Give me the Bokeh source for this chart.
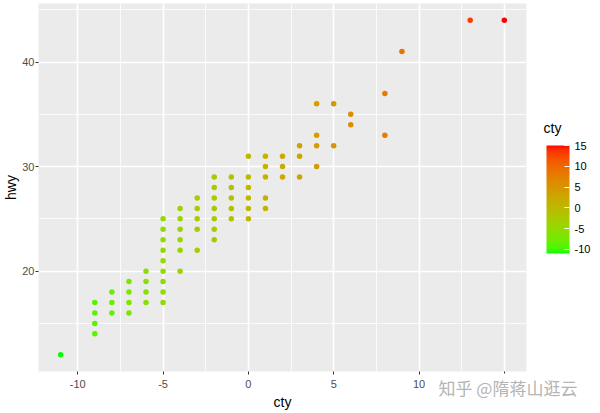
from bokeh.plotting import figure
from bokeh.models import (ColumnDataSource, LinearColorMapper, ColorBar, FixedTicker,
                          CustomJSTickFormatter)
from bokeh.embed import file_html
from bokeh.resources import INLINE

# ---- data ----
cty = [-11,
       -9, -9, -9, -9,
       -8, -8, -8,
       -7, -7, -7, -7,
       -6, -6, -6, -6,
       -5, -5, -5, -5, -5, -5, -5, -5, -5,
       -4, -4, -4, -4, -4, -4,
       -3, -3, -3, -3, -3,
       -2, -2, -2, -2, -2, -2, -2,
       -1, -1, -1, -1, -1,
       0, 0, 0, 0, 0, 0,
       1, 1, 1, 1, 1,
       2, 2, 2,
       3, 3, 3,
       4, 4, 4, 4,
       5, 5,
       6, 6,
       8, 8,
       9, 13, 15]
hwy = [12,
       14, 15, 16, 17,
       16, 17, 18,
       16, 17, 18, 19,
       17, 18, 19, 20,
       17, 18, 19, 20, 21, 22, 23, 24, 25,
       20, 22, 23, 24, 25, 26,
       22, 24, 25, 26, 27,
       23, 24, 25, 26, 27, 28, 29,
       25, 26, 27, 28, 29,
       25, 26, 27, 28, 29, 31,
       26, 27, 29, 30, 31,
       29, 30, 31,
       29, 31, 32,
       30, 32, 33, 36,
       32, 36,
       34, 35,
       33, 37,
       41, 44, 44]

x_ticks = [-10, -5, 0, 5, 10, 15]
x_minor = [-7.5, -2.5, 2.5, 7.5, 12.5]
y_ticks = [20, 30, 40]
y_minor = [15, 25, 35, 45]
legend_ticks = [-10, -5, 0, 5, 10, 15]
legend_title = "cty"
watermark = "知乎 @隋蒋山逛云"
color_low, color_high = "#00FF00", "#FF0000"

# ---- Lab gradient like ggplot's scale_colour_gradient ----
def _lin(c):
    c = c / 255.0
    return ((c + 0.055) / 1.055) ** 2.4 if c > 0.04045 else c / 12.92

def _gam(c):
    c = 1.055 * c ** (1 / 2.4) - 0.055 if c > 0.0031308 else 12.92 * c
    return max(0, min(255, round(c * 255)))

WN = (0.95047, 1.0, 1.08883)

def hex2lab(h):
    r, g, b = (_lin(int(h[i:i + 2], 16)) for i in (1, 3, 5))
    X = 0.4124 * r + 0.3576 * g + 0.1805 * b
    Y = 0.2126 * r + 0.7152 * g + 0.0722 * b
    Z = 0.0193 * r + 0.1192 * g + 0.9505 * b
    f = lambda t: t ** (1 / 3) if t > 0.008856 else 7.787 * t + 16 / 116
    fx, fy, fz = f(X / WN[0]), f(Y / WN[1]), f(Z / WN[2])
    return (116 * fy - 16, 500 * (fx - fy), 200 * (fy - fz))

def lab2hex(L, a, b):
    fy = (L + 16) / 116
    fx = fy + a / 500
    fz = fy - b / 200
    fi = lambda t: t ** 3 if t ** 3 > 0.008856 else (t - 16 / 116) / 7.787
    X, Y, Z = fi(fx) * WN[0], fi(fy) * WN[1], fi(fz) * WN[2]
    r = 3.2406 * X - 1.5372 * Y - 0.4986 * Z
    g = -0.9689 * X + 1.8758 * Y + 0.0415 * Z
    bb = 0.0557 * X - 0.2040 * Y + 1.0570 * Z
    r, g, bb = (max(0.0, min(1.0, v)) for v in (r, g, bb))
    return "#%02x%02x%02x" % (_gam(r), _gam(g), _gam(bb))

la, lb = hex2lab(color_low), hex2lab(color_high)
N = 256
palette = [lab2hex(*[la[k] + (lb[k] - la[k]) * i / (N - 1) for k in range(3)]) for i in range(N)]

mapper = LinearColorMapper(palette=palette, low=min(cty), high=max(cty))

src = ColumnDataSource(dict(cty=cty, hwy=hwy))

FONT = "Liberation Sans"
FW, FH = 488, 368

p = figure(frame_width=FW, frame_height=FH, output_backend="svg", toolbar_location=None,
           x_range=(-12.3, 16.3), y_range=(10.4, 45.6),
           min_border_top=3, min_border_left=0, min_border_bottom=0, min_border_right=66)
p.background_fill_color = "#EBEBEB"
p.border_fill_color = "white"
p.outline_line_color = None

p.scatter("cty", "hwy", source=src, size=5.5, line_color=None,
          fill_color={"field": "cty", "transform": mapper})

fmt = CustomJSTickFormatter(code="return String(tick);")
p.xaxis.ticker = FixedTicker(ticks=x_ticks, minor_ticks=x_minor)
p.yaxis.ticker = FixedTicker(ticks=y_ticks, minor_ticks=y_minor)
for ax in (p.xaxis[0], p.yaxis[0]):
    ax.formatter = fmt
    ax.axis_line_color = None
    ax.major_tick_line_color = "#333333"
    ax.major_tick_in = 0
    ax.major_tick_out = 3
    ax.minor_tick_line_color = None
    ax.major_label_text_font = FONT
    ax.major_label_text_font_size = "11px"
    ax.major_label_text_color = "#4D4D4D"
    ax.axis_label_text_font = FONT
    ax.axis_label_text_font_size = "14px"
    ax.axis_label_text_font_style = "normal"
    ax.axis_label_text_color = "black"
p.xaxis.major_label_standoff = 4
p.xaxis.axis_label_standoff = 3
p.yaxis.major_label_standoff = 0
p.yaxis.axis_label_standoff = 0
p.xaxis.axis_label = "cty"
p.yaxis.axis_label = "hwy"

for g in (p.xgrid[0], p.ygrid[0]):
    g.grid_line_color = "white"
    g.grid_line_width = 1.6
    g.minor_grid_line_color = "white"
    g.minor_grid_line_width = 0.8

# colour legend
cb = ColorBar(color_mapper=mapper, width=23, height=108,
              ticker=FixedTicker(ticks=legend_ticks), formatter=fmt,
              major_label_text_font=FONT, major_label_text_font_size="11px",
              major_label_text_color="black",
              major_tick_line_color="white", major_tick_in=5, major_tick_out=0,
              bar_line_color=None, border_line_color=None, background_fill_alpha=0,
              padding=0, label_standoff=5, location=(FW + 20, 118))
p.add_layout(cb)


def text_bar(text, x, y, w, font, size, color, bg_alpha=0.0):
    """A colour bar with no visible scale, used only to write one text outside the panel."""
    m = LinearColorMapper(palette=["#ffffff"], low=0, high=2)
    return ColorBar(color_mapper=m, orientation="horizontal", width=w, height=1,
                    scale_alpha=0, ticker=FixedTicker(ticks=[1]),
                    major_label_overrides={1: text},
                    major_label_text_font=font, major_label_text_font_size=size,
                    major_label_text_color=color,
                    major_tick_line_color=None, minor_tick_line_color=None,
                    bar_line_color=None, border_line_color=None,
                    background_fill_color="white", background_fill_alpha=bg_alpha,
                    padding=0, label_standoff=0, location=(x, y))


p.add_layout(text_bar(legend_title, FW + 16, 233, 20, FONT, "14px", "black"))
p.add_layout(text_bar(watermark, 387, -31, 165, "Noto Sans CJK SC", "17px", "#B4B4B4",
                      bg_alpha=1.0))

open("out.html", "w").write(file_html(p, INLINE))
